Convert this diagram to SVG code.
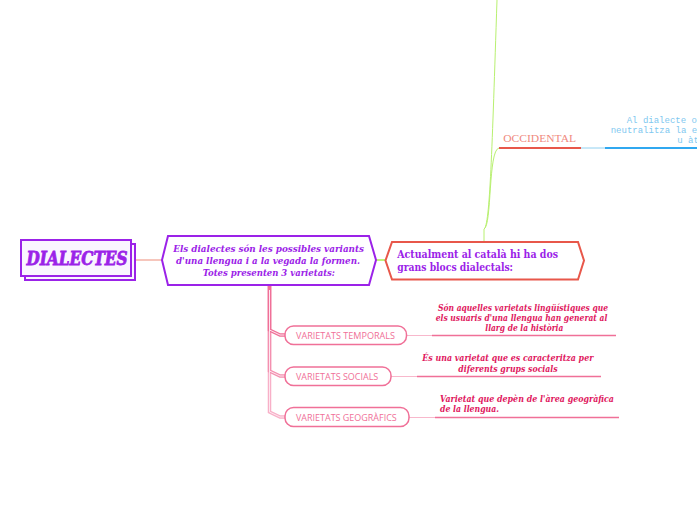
<svg xmlns="http://www.w3.org/2000/svg" width="697" height="520" viewBox="0 0 697 520">
<style>
.bg{fill:#ffffff}
.pur{fill:#faf5ff;stroke:#9b22e8;stroke-width:2}
.ptxt{fill:#9b22e8;font-family:"DejaVu Serif","Liberation Serif",serif;font-weight:bold;font-style:italic}
.red{fill:#ffffff;stroke:#e8574a;stroke-width:2}
.rtxt{fill:#9b22e8;font-family:"DejaVu Serif","Liberation Serif",serif;font-weight:bold;font-size:11px}
.pill{fill:#ffffff;stroke:#f07098;stroke-width:1.5}
.pilltxt{fill:#f07098;font-family:"Open Sans","Liberation Sans",sans-serif;font-size:9px}
.desc{fill:#e0185e;font-family:"DejaVu Serif","Liberation Serif",serif;font-weight:bold;font-style:italic;font-size:8.5px}
.mono{fill:#80c8f0;font-family:"Liberation Mono",monospace;font-size:9px}
.occ{fill:#f08a80;font-family:"Liberation Serif",serif;font-size:11px}
</style>
<rect class="bg" x="0" y="0" width="697" height="520"/>
<g id="connectors" fill="none">
  <line x1="135" y1="260" x2="162" y2="260" stroke="#f0a090" stroke-width="1.2"/>
  <line x1="376" y1="260" x2="386" y2="260" stroke="#a8f050" stroke-width="1.5"/>
  <path d="M484,242 L484,229 C490,226 492,150 497,0" stroke="#b8f070" stroke-width="1"/>
  <path d="M484,229 C492,226 488,150 499,148" stroke="#b8f070" stroke-width="1"/>
  <line x1="499" y1="148" x2="581" y2="148" stroke="#e8574a" stroke-width="2"/>
  <line x1="581" y1="148" x2="605" y2="148" stroke="#90d0f0" stroke-width="1"/>
  <line x1="605" y1="148" x2="697" y2="148" stroke="#30a8f0" stroke-width="2"/>
  <path d="M269.5,285 L269.5,412 L280,417 L285,417" stroke="#f8b0c8" stroke-width="3.5"/>
  <path d="M269.5,285 L269.5,371 L280,376 L285,376" stroke="#f490b0" stroke-width="3.5"/>
  <path d="M269.5,285 L269.5,330 L280,335 L285,335" stroke="#f07098" stroke-width="3.5"/>
  <path d="M269.5,290 L269.5,412 L280,417 L285,417" stroke="#fde6ee" stroke-width="1"/>
  <path d="M269.5,290 L269.5,371 L280,376 L285,376" stroke="#fde6ee" stroke-width="1"/>
  <path d="M269.5,290 L269.5,330 L280,335 L285,335" stroke="#fde6ee" stroke-width="1"/>
  <line x1="406" y1="335.5" x2="432" y2="335.5" stroke="#f8b8cc" stroke-width="1"/>
  <line x1="432" y1="335.5" x2="616" y2="335.5" stroke="#f07098" stroke-width="1.5"/>
  <line x1="391" y1="376.5" x2="417" y2="376.5" stroke="#f8b8cc" stroke-width="1"/>
  <line x1="417" y1="376.5" x2="601" y2="376.5" stroke="#f07098" stroke-width="1.5"/>
  <line x1="409" y1="417.5" x2="435" y2="417.5" stroke="#f8b8cc" stroke-width="1"/>
  <line x1="435" y1="417.5" x2="619" y2="417.5" stroke="#f07098" stroke-width="1.5"/>
</g>
<g id="dialectes">
  <rect class="pur" x="25" y="244" width="110" height="36"/>
  <rect class="pur" x="21" y="240" width="110" height="36"/>
  <text x="26.5" y="265" class="ptxt" font-size="19" textLength="101" lengthAdjust="spacingAndGlyphs" fill="#9b22e8" stroke="#9b22e8" stroke-width="0.8">DIALECTES</text>
</g>
<g id="main">
  <polygon class="pur" style="fill:#ffffff" points="168,236 369,236 376,260 369,285 168,285 162,260"/>
  <text class="ptxt" font-size="9.5" x="173.3" y="251.5" textLength="190.7" lengthAdjust="spacingAndGlyphs">Els dialectes són les possibles variants</text>
  <text class="ptxt" font-size="9.5" x="176" y="264" textLength="184" lengthAdjust="spacingAndGlyphs">d'una llengua i a la vegada la formen.</text>
  <text class="ptxt" font-size="9.5" x="202.7" y="276" textLength="132.3" lengthAdjust="spacingAndGlyphs">Totes presenten 3 varietats:</text>
</g>
<g id="actualment">
  <polygon class="red" points="392,242 578,242 584,260.5 578,279.5 392,279.5 385.5,260.5"/>
  <text class="rtxt" x="397.3" y="257.5" textLength="160.7" lengthAdjust="spacingAndGlyphs">Actualment al català hi ha dos</text>
  <text class="rtxt" x="397.3" y="270.5" textLength="115.7" lengthAdjust="spacingAndGlyphs">grans blocs dialectals:</text>
</g>
<g id="occidental">
  <text class="occ" x="503.3" y="141.7" textLength="72.7" lengthAdjust="spacingAndGlyphs">OCCIDENTAL</text>
</g>
<g id="occidental-desc">
  <text class="mono" x="626.7" y="122.7">Al dialecte o</text>
  <text class="mono" x="610.7" y="133.3">neutralitza la e</text>
  <text class="mono" x="677.3" y="143.3">u àt</text>
</g>
<g id="temporals">
  <rect class="pill" x="285" y="326" width="121.5" height="18.5" rx="8.5"/>
  <text class="pilltxt" x="296" y="338.5" textLength="99" lengthAdjust="spacingAndGlyphs">VARIETATS TEMPORALS</text>
</g>
<g id="socials">
  <rect class="pill" x="285" y="367" width="106" height="18.5" rx="8.5"/>
  <text class="pilltxt" x="296" y="380" textLength="82.3" lengthAdjust="spacingAndGlyphs">VARIETATS SOCIALS</text>
</g>
<g id="geografics">
  <rect class="pill" x="285" y="407.5" width="124" height="19" rx="8.5"/>
  <text class="pilltxt" x="296" y="420.7" textLength="100.7" lengthAdjust="spacingAndGlyphs">VARIETATS GEOGRÀFICS</text>
</g>
<g id="temporals-desc">
  <text class="desc" x="438" y="311" textLength="170" lengthAdjust="spacingAndGlyphs">Són aquelles varietats lingüístiques que</text>
  <text class="desc" x="435.7" y="321" textLength="171.6" lengthAdjust="spacingAndGlyphs">els usuaris d'una llengua han generat al</text>
  <text class="desc" x="485.3" y="331" textLength="78" lengthAdjust="spacingAndGlyphs">llarg de la història</text>
</g>
<g id="socials-desc">
  <text class="desc" x="422.3" y="361" textLength="171" lengthAdjust="spacingAndGlyphs">És una varietat que es caracteritza per</text>
  <text class="desc" x="458.3" y="371.5" textLength="99.4" lengthAdjust="spacingAndGlyphs">diferents grups socials</text>
</g>
<g id="geografics-desc">
  <text class="desc" x="440" y="402" textLength="174" lengthAdjust="spacingAndGlyphs">Varietat que depèn de l'àrea geogràfica</text>
  <text class="desc" x="440" y="412.3" textLength="59" lengthAdjust="spacingAndGlyphs">de la llengua.</text>
</g>
</svg>
